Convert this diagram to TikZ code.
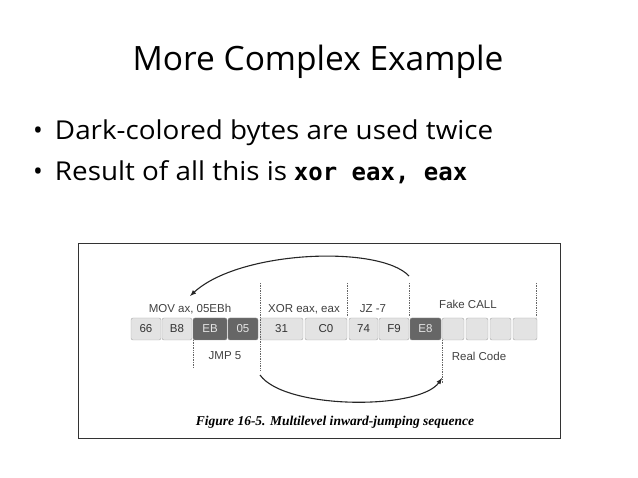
\documentclass[tikz,border=0pt]{standalone}
\usepackage{fontspec}
\setmainfont{Open Sans}
\newfontfamily\figfont{Liberation Sans}
\newfontfamily\capfont{Liberation Serif}
\setmonofont{DejaVu Sans Mono}
\begin{document}
\begin{tikzpicture}[x=1pt,y=-1pt,
  lb/.style={draw=gray!70,fill=gray!22,rounded corners=2pt,minimum height=22pt,inner sep=0pt,font=\figfont\fontsize{11.5}{11.5}\selectfont,text=black!80},
  db/.style={lb,fill=gray!80!black,draw=gray!90,text=white!80!gray},
  dl/.style={densely dotted,gray!80!black,line width=0.7pt},
  lab/.style={font=\figfont\fontsize{11.5}{11.5}\selectfont,text=black!75,inner sep=0pt,text height=8pt,text depth=0pt},
  arr/.style={-latex,line width=1.1pt,black!85}]
\useasboundingbox (0,0) rectangle (638,478);
\node (title) at (318,62) {\fontsize{33.5}{33.5}\selectfont More Complex Example};
\node[anchor=west,inner sep=0pt] (b1) at (33,133) {\fontsize{26}{26}\selectfont •\hspace{12pt}\scalebox{1.07}[1]{Dark-colored bytes are used twice}};
\node[anchor=west,inner sep=0pt] (b2) at (33,172) {\fontsize{26}{26}\selectfont •\hspace{12pt}\scalebox{1.07}[1]{Result of all this is} \texttt{\bfseries\fontsize{24}{24}\selectfont xor eax, eax}};
\draw[black!80,line width=0.8pt] (78,243) rectangle (560,438);
\foreach \n/\a/\b/\s/\t in {n1/131/161/lb/66,n2/162/192/lb/B8,n3/193/227/db/EB,n4/228/258/db/05,n5/260/303/lb/31,n6/305/347/lb/C0,n7/349/378/lb/74,n8/379/409/lb/F9,n9/410/441/db/E8,n10/442/464/lb/{},n11/466/488/lb/{},n12/490/511/lb/{},n13/513/537/lb/{}}
  \node[\s,minimum width={\b-\a}] (\n) at ({(\a+\b)/2},329) {\t};
\draw[dl] (193,340) -- (193,368);
\draw[dl] (260,283) -- (260,370);
\draw[dl] (347,283) -- (347,317);
\draw[dl] (409,283) -- (409,317);
\draw[dl] (442,340) -- (442,383);
\draw[dl] (536,283) -- (536,317);
\node[lab] (mov) at (190,309) {MOV ax, 05EBh};
\node[lab] (xor) at (304,309) {XOR eax, eax};
\node[lab] (jz) at (373,309) {JZ -7};
\node[lab] (fake) at (468,305) {Fake CALL};
\node[lab] (jmp) at (225,356) {JMP 5};
\node[lab] (real) at (479,357) {Real Code};
\coordinate (s1) at (409,276);
\coordinate (e1) at (190,296);
\draw[arr] (s1) .. controls (380,245) and (240,250) .. (e1);
\coordinate (s2) at (260,375);
\coordinate (e2) at (442,378);
\draw[arr] (s2) .. controls (285,410) and (420,410) .. (e2);
\node (cap) at (335,422) {\capfont\bfseries\itshape\fontsize{13.5}{13.5}\selectfont Figure 16-5. Multilevel inward-jumping sequence};
\end{tikzpicture}
\end{document}
